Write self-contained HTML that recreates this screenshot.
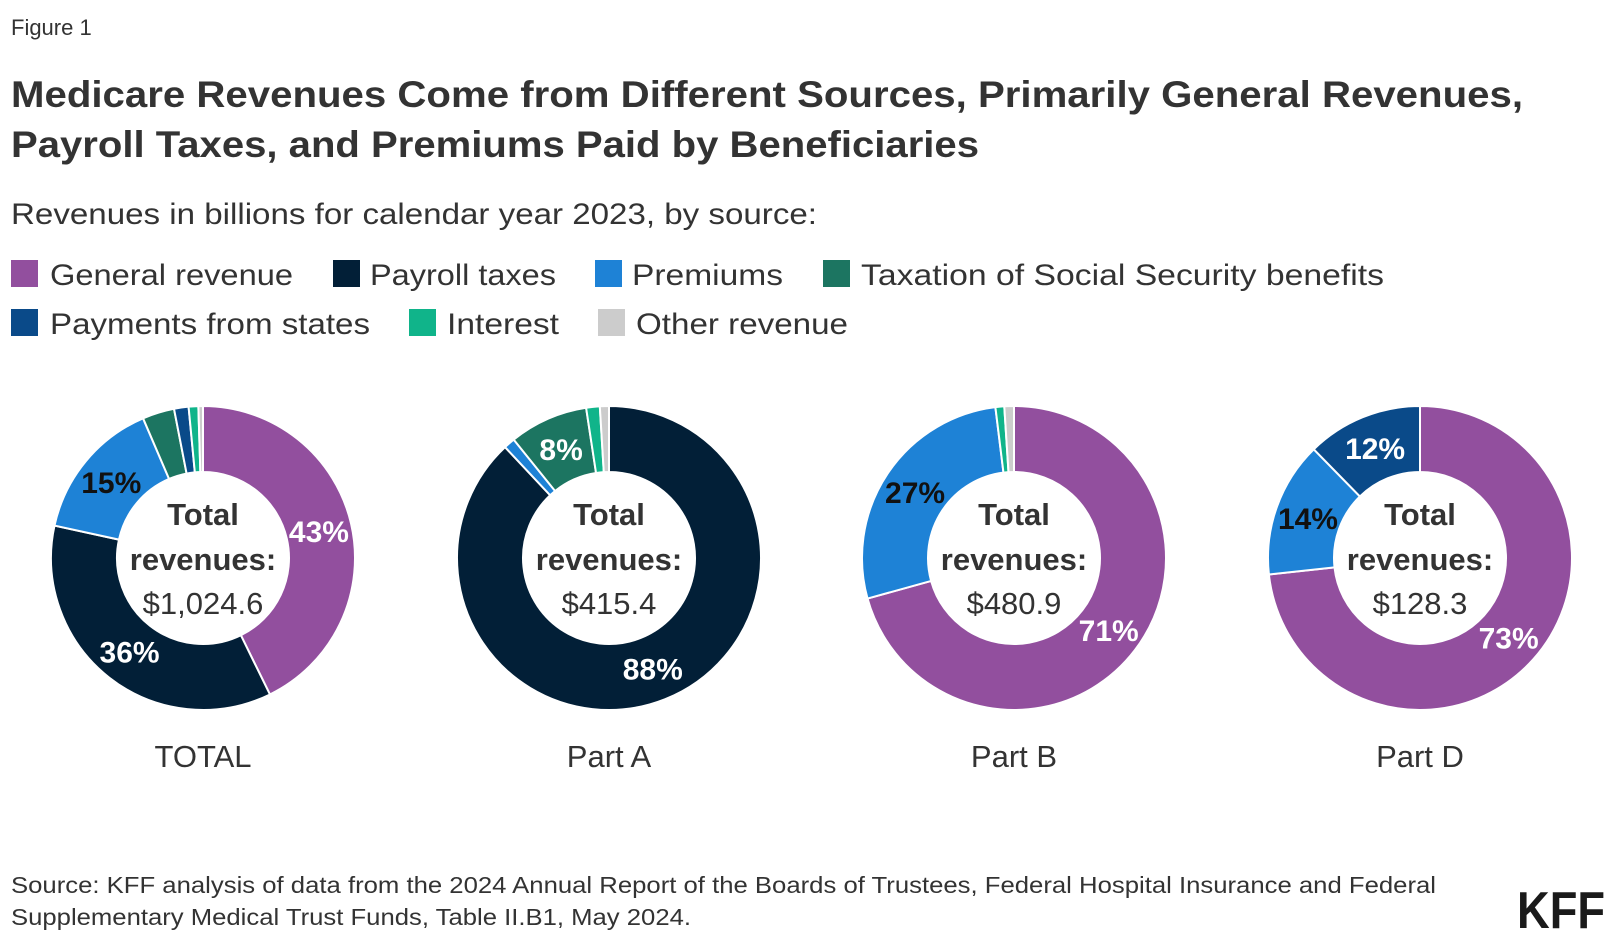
<!DOCTYPE html>
<html><head><meta charset="utf-8"><style>
body{margin:0;background:#fff}
svg{display:block;font-family:"Liberation Sans",sans-serif}
</style></head><body>
<svg id="chart" width="1620" height="942" viewBox="0 0 1620 942">
<text x="11" y="35" font-size="22" fill="#333">Figure 1</text>
<text x="11" y="107" font-size="37" font-weight="bold" fill="#333" textLength="1512" lengthAdjust="spacingAndGlyphs">Medicare Revenues Come from Different Sources, Primarily General Revenues,</text>
<text x="11" y="157" font-size="37" font-weight="bold" fill="#333" textLength="968" lengthAdjust="spacingAndGlyphs">Payroll Taxes, and Premiums Paid by Beneficiaries</text>
<text x="11" y="224" font-size="30" fill="#333" textLength="806" lengthAdjust="spacingAndGlyphs">Revenues in billions for calendar year 2023, by source:</text>
<g id="legend"></g>
<g id="donuts"></g>
<text x="11" y="893" font-size="23" fill="#333" textLength="1425" lengthAdjust="spacingAndGlyphs">Source: KFF analysis of data from the 2024 Annual Report of the Boards of Trustees, Federal Hospital Insurance and Federal</text>
<text x="11" y="925" font-size="23" fill="#333" textLength="680" lengthAdjust="spacingAndGlyphs">Supplementary Medical Trust Funds, Table II.B1, May 2024.</text>
<text x="1517" y="928" font-size="52" font-weight="bold" fill="#1a1a1a" textLength="88" lengthAdjust="spacingAndGlyphs">KFF</text>
</svg>
<script>
const sources = ["General revenue","Payroll taxes","Premiums","Taxation of Social Security benefits","Payments from states","Interest","Other revenue"];
const colors = ["#924f9e","#021f37","#1e82d6","#1c7561","#0a4a89","#10b48a","#cccccc"];
const labelColors = ["#fff","#fff","#111","#fff","#fff","#111","#111"];
const panels = ["TOTAL","Part A","Part B","Part D"];
const totals = ["$1,024.6","$415.4","$480.9","$128.3"];
const valuesTotal = [438,365.6,155,34.8,15.8,10.5,5];
const valuesA = [0,365.6,5,34.8,0,6,4];
const valuesB = [340,0,131.5,0,0,4.5,4.9];
const valuesD = [94,0,18.5,0,15.8,0,0];
const allValues = [valuesTotal,valuesA,valuesB,valuesD];

const NS="http://www.w3.org/2000/svg";
function mk(tag,attrs,parent){const e=document.createElementNS(NS,tag);for(const k in attrs)e.setAttribute(k,attrs[k]);parent.appendChild(e);return e;}

const legend=document.getElementById('legend');
const legPos=[[11,274,50,243],[333,274,370,186],[595,274,632,151],[823,274,861,523],[11,323,50,320],[409,323,447,112],[598,323,636,212]];
sources.forEach((s,i)=>{
  const p=legPos[i];
  const sq=mk('rect',{x:p[0],y:p[1]-14,width:27,height:27,fill:colors[i]},legend);
  
  
  const t=mk('text',{x:p[2],y:p[1]+11,'font-size':30,fill:'#333',textLength:p[3],lengthAdjust:'spacingAndGlyphs'},legend);
  t.textContent=s;
  
  
});

const donuts=document.getElementById('donuts');
const cxs=[203,609,1014,1420], cy=558, R=152, r=86;
function pt(a,rad,cx){return [cx+rad*Math.sin(a), cy-rad*Math.cos(a)];}
allValues.forEach((vals,pi)=>{
  const cx=cxs[pi];
  const g=mk('g',{},donuts);
  
  
  const sum=vals.reduce((a,b)=>a+b,0);
  let acc=0;
  const labels=[];
  vals.forEach((v,i)=>{
    if(v<=0)return;
    const a0=acc/sum*2*Math.PI; acc+=v; const a1=acc/sum*2*Math.PI;
    const large=(a1-a0)>Math.PI?1:0;
    const [x0,y0]=pt(a0,R,cx),[x1,y1]=pt(a1,R,cx),[x2,y2]=pt(a1,r,cx),[x3,y3]=pt(a0,r,cx);
    const path=mk('path',{d:`M${x0},${y0}A${R},${R} 0 ${large} 1 ${x1},${y1}L${x2},${y2}A${r},${r} 0 ${large} 0 ${x3},${y3}Z`,fill:colors[i],stroke:'#fff','stroke-width':2},g);
    
    
    const pct=v/sum*100;
    if(pct>=5){const am=(a0+a1)/2;const [lx,ly]=pt(am,(R+r)/2,cx);labels.push([lx,ly,Math.round(pct)+'%',labelColors[i]]);}
  });
  labels.forEach(l=>{
    const t=mk('text',{x:l[0],y:l[1]+11,'text-anchor':'middle','font-size':30,'font-weight':'bold',fill:l[3]},g);
    t.textContent=l[2];
    
    
  });
  const c1=mk('text',{x:cx,y:525,'text-anchor':'middle','font-size':31,'font-weight':'bold',fill:'#333'},g);c1.textContent='Total';
  
  
  const c2=mk('text',{x:cx,y:570,'text-anchor':'middle','font-size':31,'font-weight':'bold',fill:'#333'},g);c2.textContent='revenues:';
  
  
  const c3=mk('text',{x:cx,y:614,'text-anchor':'middle','font-size':31,fill:'#333'},g);c3.textContent=totals[pi];
  
  
  const pl=mk('text',{x:cx,y:767,'text-anchor':'middle','font-size':31,fill:'#333'},g);pl.textContent=panels[pi];
  
  
});
</script>
</body></html>
